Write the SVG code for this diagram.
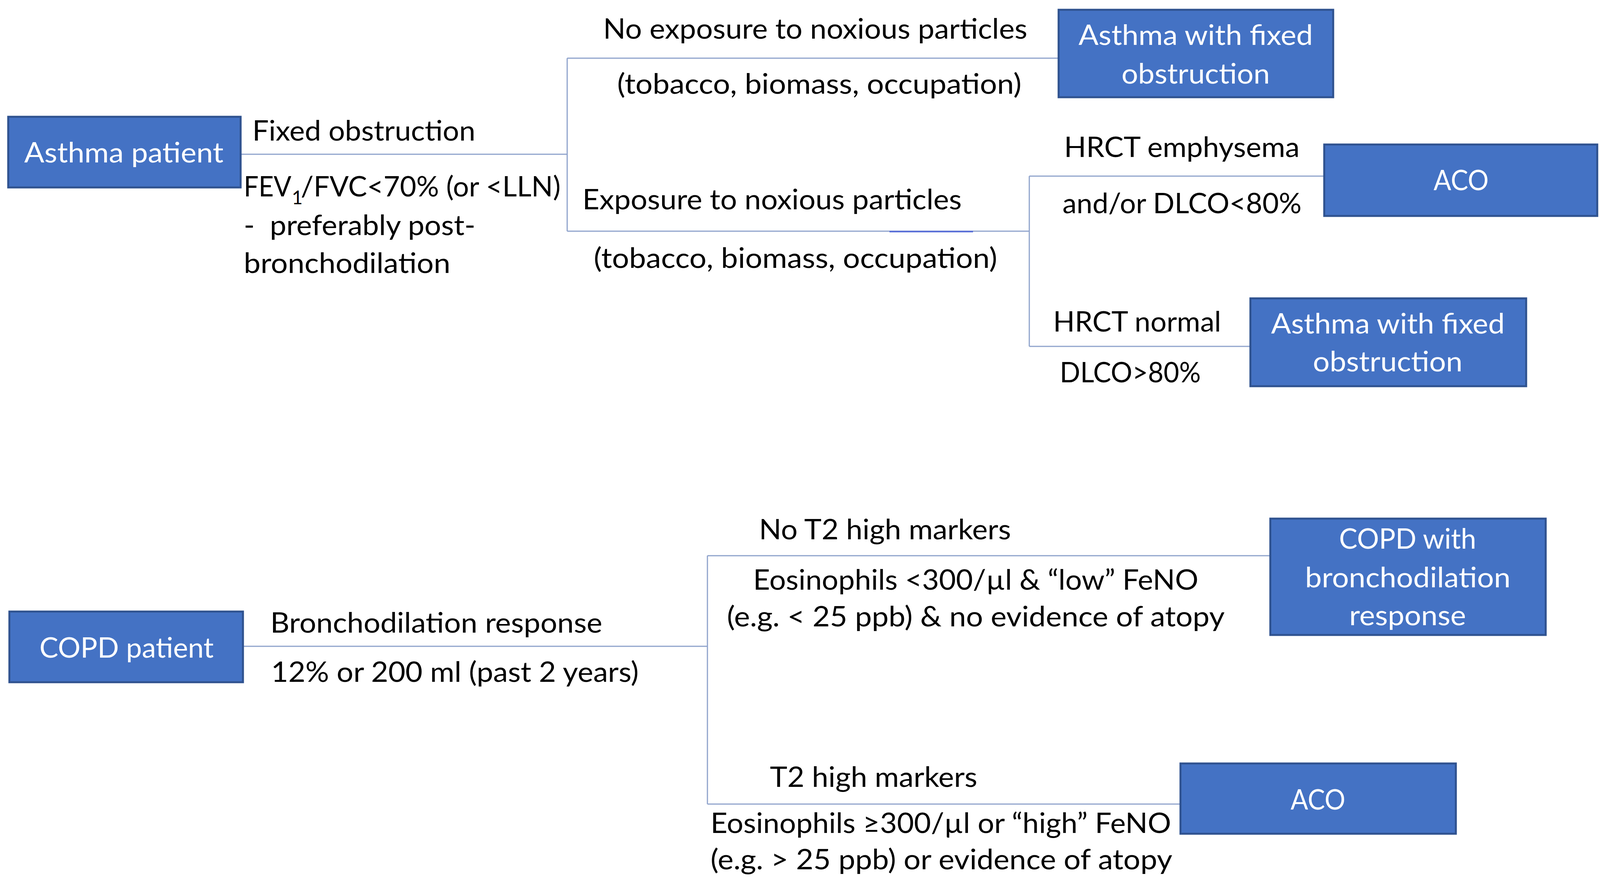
<svg xmlns="http://www.w3.org/2000/svg" width="4101" height="2256" viewBox="0 0 4101 2256">
<style>
.box{fill:#4472c4;stroke:#2f528f;stroke-width:5}
.bt{font-family:Lato,"Liberation Sans",sans-serif;font-size:72px;fill:#ffffff}
.lt{font-family:Lato,"Liberation Sans",sans-serif;font-size:72px;fill:#000000}
.mid{text-anchor:middle}
.ln{fill:none;stroke:#8fa3cc;stroke-width:3}
.ln2{fill:none;stroke:#5b70d8;stroke-width:4}
</style>
<rect width="4101" height="2256" fill="#ffffff"/>
<g id="connectors">
<path class="ln" d="M616 395H1452M1452 149V592M1452 149H2710M1452 592H2635M2635 451V887M2635 451H3390M2635 887H3201"/>
<path class="ln2" d="M2277 593H2491"/>
<path class="ln" d="M622 1655H1811M1811 1423V2059M1811 1423H3252M1811 2059H3022"/>
</g>
<g id="asthma-patient">
<rect class="box" x="21" y="299" width="595" height="181"/>
<text class="bt" x="62" y="416" textLength="510" lengthAdjust="spacingAndGlyphs">Asthma patient</text>
</g>
<g id="label-fixed-obstruction">
<text class="lt" x="646" y="360" textLength="571" lengthAdjust="spacingAndGlyphs">Fixed obstruction</text>
<text class="lt" y="503"><tspan x="624" textLength="122" lengthAdjust="spacingAndGlyphs">FEV</tspan><tspan x="747" dy="20" font-size="48">1</tspan><tspan x="770" dy="-20" textLength="665" lengthAdjust="spacingAndGlyphs">/FVC&lt;70% (or &lt;LLN)</tspan></text>
<text class="lt" x="624" y="602" xml:space="preserve" style="white-space:pre" textLength="593" lengthAdjust="spacingAndGlyphs">-  preferably post-</text>
<text class="lt" x="624" y="699" textLength="529" lengthAdjust="spacingAndGlyphs">bronchodilation</text>
</g>
<g id="label-no-exposure">
<text class="lt" x="1544" y="99" textLength="1086" lengthAdjust="spacingAndGlyphs">No exposure to noxious particles</text>
<text class="lt" x="1580" y="240" textLength="1035" lengthAdjust="spacingAndGlyphs">(tobacco, biomass, occupation)</text>
</g>
<g id="label-exposure">
<text class="lt" x="1491" y="536" textLength="971" lengthAdjust="spacingAndGlyphs">Exposure to noxious particles</text>
<text class="lt" x="1520" y="686" textLength="1033" lengthAdjust="spacingAndGlyphs">(tobacco, biomass, occupation)</text>
</g>
<g id="asthma-fixed-1">
<rect class="box" x="2710" y="25" width="703" height="224"/>
<text class="bt" x="2761" y="115" textLength="600" lengthAdjust="spacingAndGlyphs">Asthma with fixed</text>
<text class="bt" x="2871" y="214" textLength="380" lengthAdjust="spacingAndGlyphs">obstruction</text>
</g>
<g id="label-hrct-emphysema">
<text class="lt" x="2724" y="402" textLength="603" lengthAdjust="spacingAndGlyphs">HRCT emphysema</text>
<text class="lt" x="2720" y="546" textLength="612" lengthAdjust="spacingAndGlyphs">and/or DLCO&lt;80%</text>
</g>
<g id="aco-1">
<rect class="box" x="3390" y="370" width="699" height="183"/>
<text class="bt" x="3670" y="487" textLength="141" lengthAdjust="spacingAndGlyphs">ACO</text>
</g>
<g id="label-hrct-normal">
<text class="lt" x="2696" y="849" textLength="430" lengthAdjust="spacingAndGlyphs">HRCT normal</text>
<text class="lt" x="2713" y="979" textLength="361" lengthAdjust="spacingAndGlyphs">DLCO&gt;80%</text>
</g>
<g id="asthma-fixed-2">
<rect class="box" x="3201" y="764" width="706" height="225"/>
<text class="bt" x="3254" y="854" textLength="598" lengthAdjust="spacingAndGlyphs">Asthma with fixed</text>
<text class="bt" x="3361" y="951" textLength="383" lengthAdjust="spacingAndGlyphs">obstruction</text>
</g>
<g id="copd-patient">
<rect class="box" x="24" y="1566" width="598" height="181"/>
<text class="bt" x="101" y="1684" textLength="446" lengthAdjust="spacingAndGlyphs">COPD patient</text>
</g>
<g id="label-bronchodilation">
<text class="lt" x="692" y="1620" textLength="850" lengthAdjust="spacingAndGlyphs">Bronchodilation response</text>
<text class="lt" x="694" y="1746" textLength="941" lengthAdjust="spacingAndGlyphs">12% or 200 ml (past 2 years)</text>
</g>
<g id="label-no-t2">
<text class="lt" x="1943" y="1381" textLength="645" lengthAdjust="spacingAndGlyphs">No T2 high markers</text>
<text class="lt" x="1928" y="1510" textLength="1140" lengthAdjust="spacingAndGlyphs">Eosinophils &lt;300/µl &amp; “low” FeNO</text>
<text class="lt" x="1861" y="1604" textLength="1274" lengthAdjust="spacingAndGlyphs">(e.g. &lt; 25 ppb) &amp; no evidence of atopy</text>
</g>
<g id="copd-bd-response">
<rect class="box" x="3252" y="1328" width="705" height="298"/>
<text class="bt" x="3428" y="1405" textLength="351" lengthAdjust="spacingAndGlyphs">COPD with</text>
<text class="bt" x="3341" y="1504" textLength="526" lengthAdjust="spacingAndGlyphs">bronchodilation</text>
<text class="bt" x="3454" y="1601" textLength="299" lengthAdjust="spacingAndGlyphs">response</text>
</g>
<g id="label-t2">
<text class="lt" x="1971" y="2015" textLength="531" lengthAdjust="spacingAndGlyphs">T2 high markers</text>
<text class="lt" x="1819" y="2133" textLength="1179" lengthAdjust="spacingAndGlyphs">Eosinophils ≥300/µl or “high” FeNO</text>
<text class="lt" x="1819" y="2226" textLength="1182" lengthAdjust="spacingAndGlyphs">(e.g. &gt; 25 ppb) or evidence of atopy</text>
</g>
<g id="aco-2">
<rect class="box" x="3022" y="1955" width="705" height="180"/>
<text class="bt" x="3304" y="2073" textLength="140" lengthAdjust="spacingAndGlyphs">ACO</text>
</g>
</svg>
